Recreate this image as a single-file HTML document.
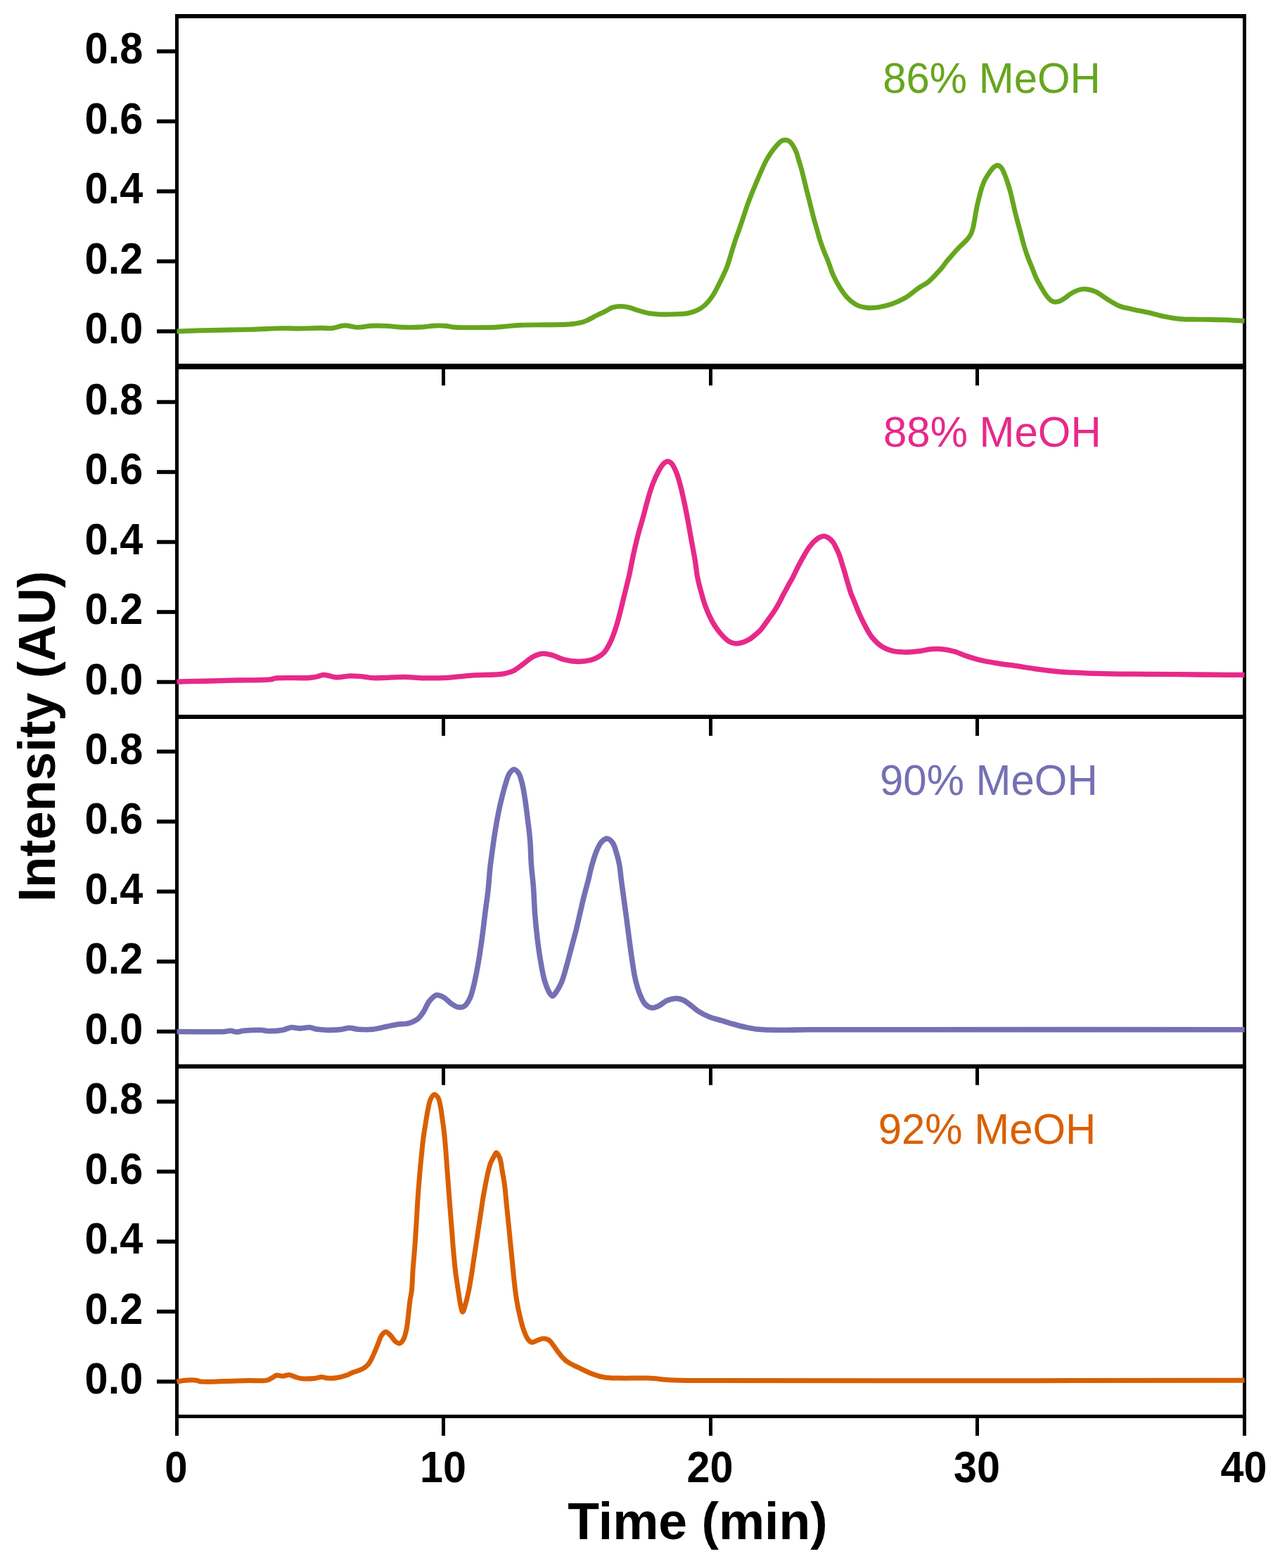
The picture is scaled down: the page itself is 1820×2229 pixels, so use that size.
<!DOCTYPE html>
<html><head><meta charset="utf-8"><title>Chromatograms</title>
<style>
html,body{margin:0;padding:0;background:#fff;}
body{width:1820px;height:2229px;overflow:hidden;}
svg{display:block;}
.b{font-family:"Liberation Sans",Arial,sans-serif;font-weight:bold;}
.r{font-family:"Liberation Sans",Arial,sans-serif;font-weight:normal;}
</style></head><body>
<svg xmlns="http://www.w3.org/2000/svg" width="1820" height="2229" viewBox="0 0 1820 2229">
<rect width="1820" height="2229" fill="#fff"/>
<g fill="#000">
<rect x="249" y="20" width="1523" height="6"/>
<rect x="249" y="517" width="1523" height="8"/>
<rect x="249" y="1016" width="1523" height="6"/>
<rect x="249" y="1513" width="1523" height="6"/>
<rect x="249" y="2011" width="1523" height="5"/>
<rect x="249" y="20" width="5" height="2021"/>
<rect x="1767" y="20" width="5" height="2021"/>
<rect x="628" y="525" width="5" height="23"/>
<rect x="1008" y="525" width="5" height="23"/>
<rect x="1387" y="525" width="5" height="23"/>
<rect x="628" y="1022" width="5" height="24"/>
<rect x="1008" y="1022" width="5" height="24"/>
<rect x="1387" y="1022" width="5" height="24"/>
<rect x="628" y="1519" width="5" height="23.5"/>
<rect x="1008" y="1519" width="5" height="23.5"/>
<rect x="1387" y="1519" width="5" height="23.5"/>
<rect x="628" y="2016" width="5" height="25"/>
<rect x="1008" y="2016" width="5" height="25"/>
<rect x="1387" y="2016" width="5" height="25"/>
<rect x="223" y="468.2" width="27" height="5.6"/>
<rect x="223" y="368.7" width="27" height="5.6"/>
<rect x="223" y="269.2" width="27" height="5.6"/>
<rect x="223" y="169.7" width="27" height="5.6"/>
<rect x="223" y="70.2" width="27" height="5.6"/>
<rect x="223" y="966.7" width="27" height="5.6"/>
<rect x="223" y="867.2" width="27" height="5.6"/>
<rect x="223" y="767.7" width="27" height="5.6"/>
<rect x="223" y="668.2" width="27" height="5.6"/>
<rect x="223" y="568.7" width="27" height="5.6"/>
<rect x="223" y="1463.6" width="27" height="5.6"/>
<rect x="223" y="1364.1" width="27" height="5.6"/>
<rect x="223" y="1264.6" width="27" height="5.6"/>
<rect x="223" y="1165.1" width="27" height="5.6"/>
<rect x="223" y="1065.6" width="27" height="5.6"/>
<rect x="223" y="1961.2" width="27" height="5.6"/>
<rect x="223" y="1861.7" width="27" height="5.6"/>
<rect x="223" y="1762.2" width="27" height="5.6"/>
<rect x="223" y="1662.7" width="27" height="5.6"/>
<rect x="223" y="1563.2" width="27" height="5.6"/>
</g>
<g fill="none" stroke-width="6.5" stroke-linejoin="round" stroke-linecap="butt">
<path d="M251.5 471.0 C251.9 471.0 252.0 471.0 252.6 471.0 C256.2 470.9 275.5 470.1 289.7 469.7 C308.8 469.2 336.9 469.0 357.1 468.4 C373.6 467.9 389.9 466.7 402.0 466.6 C410.2 466.5 415.0 467.0 422.8 467.0 C432.9 467.0 448.5 466.3 457.4 466.3 C463.0 466.3 466.3 467.0 471.2 466.6 C477.1 466.1 483.9 463.0 490.2 462.8 C496.5 462.6 503.0 465.4 509.2 465.4 C515.1 465.4 520.3 463.6 526.5 463.2 C533.7 462.8 542.8 463.0 550.0 463.4 C556.2 463.7 560.7 464.7 567.3 465.0 C576.1 465.4 589.1 465.4 598.4 465.0 C606.0 464.6 612.9 463.3 619.1 463.0 C624.2 462.8 628.4 462.8 633.0 463.2 C637.6 463.6 641.5 464.9 646.8 465.3 C653.7 465.9 662.4 465.6 671.0 465.6 C680.7 465.6 692.7 465.7 702.0 465.3 C709.6 465.0 716.2 464.1 722.8 463.6 C728.8 463.1 733.3 462.5 740.0 462.2 C749.5 461.8 763.1 462.0 774.6 461.8 C786.1 461.6 799.7 461.8 809.2 461.0 C816.0 460.4 821.8 459.6 826.5 458.4 C829.9 457.5 831.8 456.7 835.0 455.3 C839.3 453.4 845.4 449.7 850.0 447.5 C853.8 445.7 857.0 444.4 860.4 442.7 C863.9 441.0 867.0 438.3 870.7 437.1 C874.5 435.9 878.8 435.4 882.8 435.4 C886.8 435.4 890.8 436.1 894.9 437.1 C899.4 438.2 904.1 440.4 908.8 441.8 C913.4 443.2 917.5 444.4 922.6 445.3 C928.8 446.3 936.7 446.8 943.3 447.0 C949.3 447.2 954.8 446.9 960.6 446.6 C966.4 446.3 972.5 446.3 977.9 445.3 C982.8 444.3 987.6 442.9 991.7 440.9 C995.5 439.1 998.7 436.9 1002.0 434.0 C1005.7 430.7 1009.2 426.6 1012.4 421.9 C1016.2 416.4 1019.4 409.6 1022.8 402.9 C1026.4 395.7 1030.6 387.3 1033.4 380.0 C1035.9 373.7 1037.3 368.0 1039.2 362.0 C1041.1 355.9 1042.8 349.8 1044.9 343.6 C1047.0 337.1 1049.6 330.3 1051.8 324.0 C1053.8 318.1 1055.7 312.5 1057.6 306.7 C1059.5 300.9 1061.4 294.9 1063.4 289.4 C1065.3 284.2 1067.2 279.4 1069.1 274.5 C1071.0 269.8 1072.9 265.4 1074.9 260.6 C1077.1 255.4 1079.5 249.8 1081.8 244.5 C1084.1 239.4 1086.3 234.1 1088.7 229.5 C1090.9 225.3 1093.1 221.7 1095.6 218.0 C1098.1 214.4 1101.0 210.6 1103.7 207.6 C1106.0 205.0 1108.2 202.1 1110.6 200.7 C1112.5 199.6 1114.5 199.0 1116.4 199.0 C1118.3 199.0 1120.3 199.5 1122.1 200.7 C1124.3 202.1 1126.2 205.0 1127.9 207.6 C1129.7 210.4 1131.2 213.6 1132.5 216.9 C1133.9 220.5 1134.8 224.6 1135.9 228.4 C1137.1 232.2 1138.3 235.9 1139.4 239.9 C1140.6 244.3 1141.8 249.1 1142.9 253.7 C1144.1 258.3 1145.1 263.0 1146.3 267.6 C1147.4 272.2 1148.6 276.8 1149.8 281.4 C1150.9 286.0 1152.1 290.6 1153.2 295.2 C1154.4 299.8 1155.4 304.2 1156.7 309.0 C1158.1 314.2 1159.8 319.8 1161.3 325.2 C1162.8 330.6 1164.2 336.0 1165.9 341.3 C1167.6 346.7 1169.7 352.3 1171.7 357.4 C1173.6 362.2 1175.4 366.2 1177.4 371.2 C1179.7 377.1 1181.7 384.4 1184.6 390.8 C1187.5 397.3 1191.2 404.1 1194.9 409.8 C1198.2 414.9 1201.3 419.6 1205.3 423.6 C1209.3 427.6 1214.3 431.7 1219.1 434.0 C1223.5 436.1 1228.0 437.0 1232.9 437.5 C1238.3 438.0 1244.5 437.5 1250.2 436.6 C1256.0 435.7 1261.6 434.4 1267.5 432.3 C1274.2 430.0 1281.8 426.6 1288.2 422.8 C1294.4 419.1 1300.0 413.6 1305.5 409.8 C1310.3 406.5 1314.9 404.7 1319.3 401.2 C1324.2 397.4 1329.4 391.4 1333.2 387.4 C1335.9 384.5 1337.8 382.4 1340.0 379.7 C1342.2 377.0 1344.0 374.1 1346.2 371.4 C1348.5 368.6 1351.1 365.9 1353.5 363.1 C1355.9 360.3 1358.2 357.4 1360.7 354.8 C1363.1 352.2 1365.6 349.9 1368.0 347.5 C1370.4 345.1 1373.2 342.8 1375.3 340.3 C1377.3 338.0 1379.0 335.7 1380.4 333.0 C1381.8 330.2 1382.7 326.9 1383.6 323.7 C1384.5 320.4 1384.9 316.9 1385.6 313.3 C1386.3 309.4 1387.0 304.8 1387.7 300.9 C1388.4 297.3 1389.0 294.1 1389.8 290.5 C1390.7 286.5 1391.8 282.1 1392.9 278.1 C1393.9 274.2 1394.8 270.4 1396.0 266.7 C1397.2 263.1 1398.4 259.7 1400.1 256.3 C1401.9 252.8 1404.2 249.1 1406.4 245.9 C1408.4 243.0 1410.4 240.0 1412.6 238.1 C1414.4 236.6 1416.4 234.9 1418.3 235.0 C1420.2 235.1 1422.4 236.9 1424.0 238.7 C1425.8 240.8 1426.8 244.0 1428.1 247.0 C1429.6 250.5 1431.0 254.4 1432.3 258.4 C1433.7 262.7 1435.1 267.1 1436.4 271.8 C1437.8 276.8 1438.9 282.2 1440.1 287.4 C1441.3 292.6 1442.4 297.8 1443.7 303.0 C1445.0 308.2 1446.4 313.3 1447.8 318.5 C1449.2 323.7 1450.6 328.9 1452.0 334.1 C1453.4 339.3 1454.6 344.4 1456.1 349.6 C1457.7 354.8 1459.4 360.0 1461.3 365.2 C1463.2 370.4 1465.4 375.5 1467.5 380.7 C1469.6 385.9 1471.6 391.6 1473.8 396.3 C1475.8 400.4 1477.8 403.8 1480.0 407.5 C1482.2 411.3 1484.5 415.6 1487.0 419.0 C1489.2 422.0 1491.5 425.1 1494.0 426.8 C1495.9 428.1 1497.9 429.0 1500.0 429.2 C1502.2 429.4 1504.7 428.8 1507.0 428.0 C1509.6 427.1 1512.2 425.1 1514.6 423.5 C1516.9 421.9 1518.8 420.0 1521.0 418.5 C1523.2 417.0 1525.5 415.7 1528.0 414.5 C1530.5 413.3 1533.3 412.1 1536.0 411.5 C1538.6 410.9 1541.0 410.7 1544.0 411.0 C1548.0 411.4 1553.1 412.5 1557.8 414.6 C1563.4 417.1 1569.2 422.3 1575.0 425.8 C1580.7 429.2 1586.2 432.9 1592.3 435.3 C1598.5 437.7 1605.4 438.6 1612.2 440.1 C1619.4 441.7 1626.9 443.0 1634.3 444.7 C1641.7 446.4 1649.1 448.7 1656.5 450.2 C1663.8 451.7 1670.7 452.8 1678.6 453.5 C1687.7 454.3 1697.7 453.9 1708.1 454.1 C1719.7 454.3 1733.9 454.4 1744.9 454.8 C1753.9 455.2 1761.3 455.8 1769.5 456.3" stroke="#66A61E" stroke-width="6.9"/>
<path d="M251.5 969.2 C256.8 969.0 261.0 968.9 267.3 968.7 C276.6 968.5 290.3 968.3 301.8 968.0 C313.3 967.7 323.9 967.3 336.4 967.0 C351.2 966.6 376.0 967.0 384.8 965.8 C388.2 965.3 388.3 964.5 391.7 964.1 C400.5 963.0 429.9 964.3 440.1 963.5 C444.8 963.1 447.0 962.7 450.4 962.0 C453.7 961.3 457.0 959.6 460.0 959.4 C462.7 959.3 464.9 960.1 467.7 960.6 C470.9 961.2 474.0 962.7 478.1 962.9 C483.8 963.2 491.9 960.9 498.8 960.8 C505.7 960.7 513.9 961.7 519.6 962.3 C523.6 962.7 525.9 963.5 529.9 963.7 C535.5 964.0 542.9 963.5 550.0 963.3 C558.1 963.1 567.3 962.3 575.9 962.4 C584.5 962.5 592.5 963.6 601.8 963.8 C612.5 964.0 624.9 963.9 636.4 963.3 C647.9 962.7 658.7 961.1 671.0 960.2 C685.0 959.2 705.3 959.6 715.9 957.8 C721.9 956.8 725.3 955.9 729.7 953.8 C734.5 951.5 738.9 947.6 743.5 944.3 C748.2 941.0 752.6 936.5 757.4 933.9 C761.8 931.5 766.5 929.5 771.2 929.1 C775.7 928.7 780.2 930.0 785.0 931.3 C790.5 932.7 796.2 936.2 802.3 937.7 C808.8 939.3 816.4 940.5 823.0 940.5 C829.0 940.5 835.4 939.6 840.3 938.3 C844.1 937.3 847.0 936.0 850.0 934.3 C853.1 932.6 856.0 930.8 858.6 927.9 C861.9 924.4 864.8 919.0 867.3 914.0 C870.0 908.7 872.2 902.6 874.2 896.8 C876.2 891.1 877.7 885.5 879.4 879.5 C881.2 872.9 882.9 865.7 884.6 858.8 C886.3 851.9 888.0 844.8 889.7 838.0 C891.3 831.4 892.9 825.6 894.5 818.5 C896.4 810.1 898.1 800.1 900.1 790.7 C902.2 781.0 904.6 770.6 907.0 761.3 C909.2 752.8 911.6 745.3 913.9 737.1 C916.2 728.6 918.4 719.5 920.8 711.2 C923.0 703.4 925.1 695.9 927.8 688.8 C930.3 682.1 933.5 675.0 936.4 669.7 C938.7 665.6 940.8 661.8 943.3 659.4 C945.2 657.6 947.4 655.9 949.4 655.9 C951.4 655.9 953.6 657.5 955.4 659.4 C958.1 662.3 960.3 668.2 962.3 673.2 C964.4 678.6 965.9 684.3 967.5 690.5 C969.4 697.5 971.0 705.1 972.7 712.9 C974.5 721.2 976.2 730.0 977.9 738.9 C979.7 748.4 981.4 758.6 983.1 768.2 C984.8 777.6 986.7 786.9 988.2 795.9 C989.6 804.3 990.2 812.5 991.7 820.3 C993.1 827.7 994.9 834.4 996.9 841.5 C998.9 848.9 1001.1 856.8 1003.8 863.9 C1006.3 870.6 1009.1 877.0 1012.4 882.9 C1015.5 888.5 1018.8 893.7 1022.8 898.5 C1026.8 903.3 1032.1 909.1 1036.6 911.8 C1039.8 913.7 1042.7 914.6 1046.0 914.8 C1049.6 915.0 1053.9 913.8 1057.3 912.7 C1060.4 911.7 1063.1 910.4 1065.9 908.7 C1068.9 906.8 1071.9 904.1 1074.6 901.8 C1077.1 899.7 1079.4 897.8 1081.5 895.5 C1083.6 893.2 1085.3 890.6 1087.2 888.0 C1089.1 885.4 1091.1 882.6 1093.0 879.9 C1094.9 877.2 1097.0 874.5 1098.8 871.8 C1100.6 869.1 1102.2 866.6 1103.9 863.8 C1105.7 860.9 1107.5 857.7 1109.1 854.6 C1110.7 851.5 1112.2 848.2 1113.7 845.3 C1115.1 842.7 1116.5 840.4 1117.8 837.9 C1119.2 835.4 1120.4 833.0 1121.8 830.4 C1123.4 827.5 1125.1 824.8 1127.0 821.2 C1129.6 816.3 1132.8 809.1 1135.6 803.6 C1138.2 798.7 1140.7 794.1 1143.2 789.8 C1145.5 785.9 1147.6 782.1 1150.1 778.7 C1152.5 775.5 1155.1 772.2 1157.7 769.7 C1160.0 767.5 1162.2 765.5 1164.6 764.2 C1166.8 763.0 1169.2 762.0 1171.5 762.1 C1173.8 762.2 1176.4 763.5 1178.5 764.9 C1180.8 766.4 1182.9 768.7 1184.7 771.1 C1186.6 773.7 1188.0 777.0 1189.5 780.1 C1191.0 783.2 1192.5 786.4 1193.7 789.8 C1195.0 793.3 1196.0 797.1 1197.1 800.8 C1198.3 804.5 1199.4 807.9 1200.6 811.9 C1201.9 816.4 1203.2 821.4 1204.7 826.4 C1206.3 831.9 1208.3 838.8 1210.0 843.7 C1211.3 847.3 1212.4 849.5 1213.9 853.1 C1215.9 858.0 1218.3 864.5 1220.8 870.3 C1223.4 876.3 1226.3 882.6 1229.5 888.5 C1232.7 894.4 1235.8 900.8 1239.9 905.9 C1243.9 910.9 1248.5 915.6 1253.7 918.9 C1258.9 922.2 1264.9 924.4 1271.0 925.8 C1277.5 927.2 1285.1 927.1 1291.7 927.0 C1297.7 926.9 1303.6 926.0 1309.0 925.3 C1313.9 924.6 1317.9 923.3 1322.8 922.9 C1328.2 922.4 1334.4 922.3 1340.1 922.9 C1345.9 923.5 1351.7 924.7 1357.4 926.3 C1363.2 927.9 1368.6 930.7 1374.6 932.7 C1381.2 934.9 1388.4 937.1 1395.4 938.8 C1402.3 940.4 1408.3 941.3 1416.1 942.6 C1426.0 944.2 1439.9 945.9 1450.0 947.4 C1458.2 948.6 1464.0 949.8 1472.1 950.9 C1482.0 952.3 1494.2 953.8 1505.3 954.8 C1516.4 955.7 1526.9 956.1 1538.5 956.6 C1551.3 957.2 1564.4 957.6 1579.0 957.9 C1596.0 958.2 1614.8 958.1 1634.3 958.3 C1656.3 958.5 1681.5 958.8 1704.4 959.0 C1726.5 959.2 1747.8 959.3 1769.5 959.4" stroke="#E7298A" stroke-width="7.3"/>
<path d="M251.5 1466.5 C274.0 1466.5 307.2 1467.3 319.1 1466.5 C323.4 1466.2 324.9 1465.2 327.8 1465.3 C330.7 1465.4 333.4 1467.0 336.4 1467.0 C339.7 1467.1 342.6 1465.7 346.8 1465.3 C353.2 1464.6 364.6 1464.0 371.0 1464.3 C375.2 1464.5 377.3 1465.6 381.3 1465.7 C387.0 1465.9 396.2 1465.4 402.1 1464.3 C406.7 1463.4 410.1 1460.9 414.2 1460.5 C418.2 1460.1 422.1 1461.9 426.3 1461.9 C430.7 1461.9 435.9 1460.2 440.1 1460.5 C443.8 1460.8 446.7 1462.5 450.4 1463.1 C454.7 1463.8 459.3 1464.2 464.3 1464.3 C470.1 1464.4 477.5 1464.2 483.3 1463.6 C488.3 1463.1 492.6 1461.3 497.1 1461.3 C501.3 1461.3 504.6 1462.8 509.2 1463.2 C515.2 1463.7 523.1 1463.9 529.9 1463.2 C536.7 1462.5 543.9 1460.4 550.0 1459.2 C555.0 1458.2 558.9 1457.1 563.8 1456.4 C569.2 1455.6 575.9 1456.0 581.1 1454.6 C585.6 1453.4 589.8 1451.7 593.2 1449.1 C596.7 1446.5 599.1 1442.7 601.8 1438.8 C604.9 1434.3 607.0 1427.4 610.5 1423.2 C613.5 1419.6 617.2 1415.3 620.8 1414.6 C624.1 1414.0 627.9 1416.2 631.2 1418.0 C634.9 1420.0 638.0 1424.4 641.6 1426.7 C644.9 1428.9 648.6 1431.4 652.0 1431.8 C654.9 1432.2 658.1 1431.8 660.6 1430.1 C663.8 1428.0 666.3 1423.0 668.5 1418.4 C671.1 1412.7 672.5 1405.5 674.3 1398.0 C676.5 1389.0 678.4 1378.5 680.2 1368.2 C682.1 1357.1 683.8 1345.2 685.4 1333.7 C687.0 1322.2 688.2 1310.6 689.7 1299.1 C691.1 1287.6 692.9 1275.9 694.1 1264.6 C695.3 1253.6 696.0 1241.0 697.0 1232.0 C697.7 1225.6 698.3 1221.9 699.2 1215.5 C700.4 1206.8 702.0 1194.6 703.6 1184.4 C705.2 1174.4 707.0 1164.1 708.8 1155.0 C710.4 1147.0 712.1 1139.7 713.9 1132.6 C715.6 1126.0 717.2 1119.4 719.1 1113.6 C720.7 1108.6 721.9 1103.2 724.3 1099.7 C726.1 1097.0 728.7 1093.8 730.9 1093.7 C733.0 1093.6 735.5 1096.4 737.3 1098.9 C739.7 1102.3 740.9 1108.0 742.4 1113.6 C744.2 1120.6 745.5 1129.6 746.8 1137.8 C748.1 1146.3 749.1 1154.7 750.2 1163.7 C751.4 1173.6 752.8 1184.1 753.7 1194.8 C754.6 1206.2 754.7 1218.6 755.5 1230.0 C756.3 1240.9 757.7 1250.9 758.5 1262.0 C759.4 1273.9 759.7 1287.0 760.6 1299.1 C761.5 1310.8 762.7 1322.5 764.0 1333.7 C765.3 1344.4 766.6 1354.6 768.4 1364.8 C770.1 1374.8 771.9 1385.8 774.4 1394.2 C776.4 1400.8 778.9 1407.6 781.3 1411.4 C782.7 1413.6 784.2 1416.0 785.6 1416.0 C787.1 1416.0 788.4 1413.5 790.0 1411.4 C792.6 1407.9 796.1 1401.7 798.6 1395.9 C801.4 1389.2 803.3 1381.2 805.5 1373.4 C807.9 1365.1 810.1 1356.1 812.4 1347.5 C814.7 1338.9 817.2 1329.9 819.3 1321.6 C821.2 1313.9 822.7 1306.9 824.5 1299.1 C826.4 1290.8 828.5 1281.5 830.6 1273.2 C832.6 1265.4 834.7 1258.1 836.6 1250.7 C838.4 1243.5 839.8 1236.3 841.8 1229.3 C843.8 1222.3 846.1 1214.5 848.7 1208.6 C850.8 1203.9 852.7 1199.3 855.6 1196.5 C858.0 1194.2 861.3 1191.9 863.9 1192.2 C866.5 1192.5 869.2 1195.4 871.2 1198.2 C873.7 1201.7 874.9 1207.2 876.4 1212.1 C878.1 1217.5 879.6 1223.1 880.7 1229.3 C882.0 1236.3 882.4 1243.9 883.5 1252.0 C884.7 1261.3 886.3 1272.2 887.6 1281.8 C888.8 1290.8 889.9 1299.1 891.1 1307.8 C892.2 1316.4 893.4 1325.1 894.5 1333.7 C895.7 1342.3 896.7 1350.8 898.0 1359.6 C899.4 1368.9 900.9 1380.2 902.5 1388.0 C903.6 1393.5 904.6 1397.4 906.0 1402.0 C907.3 1406.4 908.6 1410.8 910.5 1415.0 C912.4 1419.3 914.4 1424.5 917.4 1427.5 C920.0 1430.1 923.7 1432.3 926.9 1432.7 C930.0 1433.1 933.2 1431.5 936.4 1430.1 C940.3 1428.3 944.3 1424.1 948.5 1422.3 C952.4 1420.6 956.7 1419.5 960.6 1419.4 C964.2 1419.3 967.7 1420.1 971.0 1421.5 C974.6 1423.0 977.8 1425.8 981.3 1428.4 C985.2 1431.2 989.0 1435.1 993.4 1437.9 C998.1 1440.9 1003.6 1443.6 1009.0 1445.7 C1014.5 1447.9 1020.5 1449.1 1026.3 1450.8 C1032.0 1452.5 1037.7 1454.4 1043.5 1456.0 C1049.2 1457.6 1055.0 1459.2 1060.8 1460.4 C1066.5 1461.6 1071.5 1462.6 1078.1 1463.3 C1086.9 1464.2 1098.1 1464.2 1109.2 1464.3 C1121.9 1464.4 1128.4 1463.9 1150.0 1463.8 C1234.3 1463.3 1563.0 1463.7 1769.5 1463.7" stroke="#7570B3" stroke-width="7.6"/>
<path d="M251.5 1964.3 C254.5 1963.7 256.9 1963.0 260.4 1962.6 C265.5 1962.1 275.1 1961.6 279.4 1962.2 C281.7 1962.5 282.1 1963.5 284.6 1963.9 C291.0 1964.9 307.6 1963.8 319.1 1963.6 C330.6 1963.4 343.0 1962.8 353.7 1962.6 C363.0 1962.4 373.8 1963.6 379.6 1962.2 C382.7 1961.4 384.2 1960.0 386.5 1958.8 C388.8 1957.6 390.9 1955.5 393.4 1955.0 C396.1 1954.5 399.1 1956.3 402.1 1956.2 C405.2 1956.1 408.5 1954.1 411.6 1954.4 C414.8 1954.7 418.2 1957.0 421.1 1957.9 C423.6 1958.7 425.1 1959.2 428.0 1959.6 C432.7 1960.2 441.6 1960.1 447.0 1959.6 C451.0 1959.2 454.1 1957.5 457.4 1957.5 C460.4 1957.5 462.9 1958.9 466.0 1959.1 C469.7 1959.4 474.0 1959.4 478.1 1958.8 C482.6 1958.2 487.8 1956.7 491.9 1955.3 C495.3 1954.1 497.6 1952.7 501.0 1951.3 C505.3 1949.6 511.8 1948.1 515.8 1945.8 C519.0 1944.0 521.3 1942.2 523.6 1939.5 C526.3 1936.2 528.3 1931.5 530.5 1927.0 C532.8 1922.2 534.9 1916.4 537.0 1911.5 C538.9 1907.0 540.2 1901.7 542.5 1898.5 C544.2 1896.1 546.3 1893.3 548.4 1893.2 C550.6 1893.1 553.1 1896.3 555.3 1898.4 C557.8 1900.8 559.7 1905.1 562.2 1907.0 C564.1 1908.5 566.5 1910.0 568.3 1909.6 C570.2 1909.2 572.0 1906.8 573.4 1904.4 C575.4 1901.1 576.7 1895.6 577.8 1890.6 C579.1 1884.8 579.6 1878.2 580.4 1871.6 C581.3 1864.4 582.0 1855.7 582.9 1849.1 C583.6 1843.8 584.6 1840.6 585.3 1835.0 C586.3 1826.7 586.4 1814.7 587.2 1804.2 C588.0 1793.1 589.2 1781.5 590.0 1770.1 C590.8 1758.7 591.5 1747.4 592.2 1736.0 C592.9 1724.6 593.4 1713.3 594.2 1701.9 C595.0 1690.5 596.0 1678.5 596.9 1667.8 C597.7 1658.2 598.6 1649.2 599.5 1640.5 C600.3 1632.4 601.0 1624.8 602.0 1617.3 C602.9 1610.2 604.1 1603.5 605.2 1596.8 C606.2 1590.3 607.1 1583.7 608.4 1577.7 C609.5 1572.4 610.3 1566.6 612.2 1562.7 C613.6 1559.8 615.4 1556.2 617.3 1555.9 C619.0 1555.7 621.3 1558.0 622.7 1560.0 C624.6 1562.8 625.2 1567.8 626.2 1572.3 C627.4 1577.6 628.0 1583.9 628.9 1590.0 C629.8 1596.6 630.8 1603.4 631.6 1610.5 C632.4 1618.0 633.0 1625.6 633.7 1633.7 C634.4 1642.4 635.0 1651.9 635.7 1661.0 C636.4 1670.1 637.0 1679.1 637.7 1688.2 C638.4 1697.3 639.1 1705.9 639.8 1715.5 C640.6 1726.2 641.6 1738.2 642.5 1749.6 C643.4 1761.0 644.2 1773.0 645.2 1783.7 C646.1 1793.3 647.2 1804.7 648.0 1811.0 C648.4 1814.3 648.7 1815.3 649.2 1818.5 C650.0 1823.9 651.3 1833.5 652.4 1840.2 C653.3 1846.0 654.0 1851.9 655.1 1856.4 C655.9 1859.8 656.8 1865.0 657.9 1865.0 C659.3 1865.0 661.3 1855.9 662.7 1851.0 C664.2 1845.8 665.3 1840.5 666.5 1834.7 C667.9 1828.0 669.1 1820.3 670.3 1813.1 C671.5 1805.9 672.4 1798.7 673.5 1791.5 C674.6 1784.3 675.7 1777.0 676.8 1769.8 C677.9 1762.6 678.9 1755.4 680.0 1748.2 C681.1 1741.0 682.2 1733.8 683.3 1726.6 C684.4 1719.4 685.4 1711.8 686.5 1704.9 C687.5 1698.5 688.7 1692.4 689.8 1686.5 C690.9 1680.9 691.8 1675.7 693.0 1670.3 C694.3 1664.9 695.5 1658.9 697.3 1654.1 C698.9 1650.0 701.2 1646.0 702.8 1643.2 C703.9 1641.3 704.7 1638.5 705.8 1638.5 C707.2 1638.5 709.4 1643.1 710.7 1646.4 C712.5 1651.0 713.0 1658.0 714.1 1664.1 C715.3 1670.7 716.5 1677.3 717.5 1684.6 C718.6 1693.0 719.3 1702.7 720.2 1711.8 C721.1 1720.9 722.1 1730.0 723.0 1739.1 C723.9 1748.2 724.8 1757.3 725.7 1766.4 C726.6 1775.5 727.5 1784.6 728.4 1793.7 C729.3 1802.8 730.1 1811.9 731.1 1821.0 C732.1 1830.1 733.2 1839.8 734.6 1848.2 C735.8 1855.5 737.1 1861.9 738.7 1868.7 C740.3 1875.6 741.9 1883.0 744.1 1889.2 C746.0 1894.7 748.3 1901.0 750.9 1904.2 C752.6 1906.3 754.3 1908.0 756.4 1908.3 C758.7 1908.6 761.7 1906.2 764.4 1905.3 C767.2 1904.4 770.2 1902.7 773.0 1902.7 C775.6 1902.7 778.3 1903.5 780.5 1905.0 C783.0 1906.6 784.7 1909.6 786.9 1912.5 C789.6 1916.0 792.4 1920.8 795.6 1924.6 C798.8 1928.4 801.7 1932.2 805.9 1935.3 C810.7 1938.9 817.3 1941.5 823.2 1944.4 C829.3 1947.4 835.8 1950.8 842.2 1953.1 C848.4 1955.4 854.5 1957.3 861.2 1958.3 C868.3 1959.4 875.2 1958.9 883.7 1959.1 C894.7 1959.3 909.7 1958.6 921.7 1959.1 C932.6 1959.6 942.1 1961.1 952.8 1961.7 C964.0 1962.3 968.3 1962.4 987.4 1962.6 C1078.0 1963.8 1508.8 1962.4 1769.5 1962.3" stroke="#D95F02" stroke-width="7"/>
</g>
<g class="b" fill="#000" font-size="62.7" text-anchor="end">
<text x="203.20" y="488.40" textLength="82.60" lengthAdjust="spacingAndGlyphs">0.0</text>
<text x="203.20" y="388.90" textLength="82.60" lengthAdjust="spacingAndGlyphs">0.2</text>
<text x="203.20" y="289.40" textLength="82.60" lengthAdjust="spacingAndGlyphs">0.4</text>
<text x="203.20" y="189.90" textLength="82.60" lengthAdjust="spacingAndGlyphs">0.6</text>
<text x="203.20" y="90.40" textLength="82.60" lengthAdjust="spacingAndGlyphs">0.8</text>
<text x="203.20" y="986.90" textLength="82.60" lengthAdjust="spacingAndGlyphs">0.0</text>
<text x="203.20" y="887.40" textLength="82.60" lengthAdjust="spacingAndGlyphs">0.2</text>
<text x="203.20" y="787.90" textLength="82.60" lengthAdjust="spacingAndGlyphs">0.4</text>
<text x="203.20" y="688.40" textLength="82.60" lengthAdjust="spacingAndGlyphs">0.6</text>
<text x="203.20" y="588.90" textLength="82.60" lengthAdjust="spacingAndGlyphs">0.8</text>
<text x="203.20" y="1483.80" textLength="82.60" lengthAdjust="spacingAndGlyphs">0.0</text>
<text x="203.20" y="1384.30" textLength="82.60" lengthAdjust="spacingAndGlyphs">0.2</text>
<text x="203.20" y="1284.80" textLength="82.60" lengthAdjust="spacingAndGlyphs">0.4</text>
<text x="203.20" y="1185.30" textLength="82.60" lengthAdjust="spacingAndGlyphs">0.6</text>
<text x="203.20" y="1085.80" textLength="82.60" lengthAdjust="spacingAndGlyphs">0.8</text>
<text x="203.20" y="1981.40" textLength="82.60" lengthAdjust="spacingAndGlyphs">0.0</text>
<text x="203.20" y="1881.90" textLength="82.60" lengthAdjust="spacingAndGlyphs">0.2</text>
<text x="203.20" y="1782.40" textLength="82.60" lengthAdjust="spacingAndGlyphs">0.4</text>
<text x="203.20" y="1682.90" textLength="82.60" lengthAdjust="spacingAndGlyphs">0.6</text>
<text x="203.20" y="1583.40" textLength="82.60" lengthAdjust="spacingAndGlyphs">0.8</text>
</g>
<g class="b" fill="#000" font-size="62.5" text-anchor="middle">
<text x="250.50" y="2107.10" textLength="32.30" lengthAdjust="spacingAndGlyphs">0</text>
<text x="630.00" y="2107.10" textLength="65.90" lengthAdjust="spacingAndGlyphs">10</text>
<text x="1009.50" y="2107.10" textLength="65.90" lengthAdjust="spacingAndGlyphs">20</text>
<text x="1389.00" y="2107.10" textLength="65.90" lengthAdjust="spacingAndGlyphs">30</text>
<text x="1768.50" y="2107.10" textLength="65.90" lengthAdjust="spacingAndGlyphs">40</text>
</g>
<g class="r" font-size="61.5">
<text x="1255.20" y="132.30" fill="#66A61E" textLength="309.70" lengthAdjust="spacingAndGlyphs">86% MeOH</text>
<text x="1256.00" y="635.00" fill="#E7298A" textLength="309.70" lengthAdjust="spacingAndGlyphs">88% MeOH</text>
<text x="1251.00" y="1129.70" fill="#7570B3" textLength="309.70" lengthAdjust="spacingAndGlyphs">90% MeOH</text>
<text x="1248.70" y="1626.40" fill="#D95F02" textLength="309.70" lengthAdjust="spacingAndGlyphs">92% MeOH</text>
</g>
<text class="b" x="992.0" y="2188.0" font-size="75.0" textLength="369.4" lengthAdjust="spacingAndGlyphs" text-anchor="middle" fill="#000">Time (min)</text>
<text class="b" transform="translate(77.5 1046.8) rotate(-90)" font-size="74.5" textLength="470.5" lengthAdjust="spacingAndGlyphs" text-anchor="middle" fill="#000">Intensity (AU)</text>
</svg>
</body></html>
